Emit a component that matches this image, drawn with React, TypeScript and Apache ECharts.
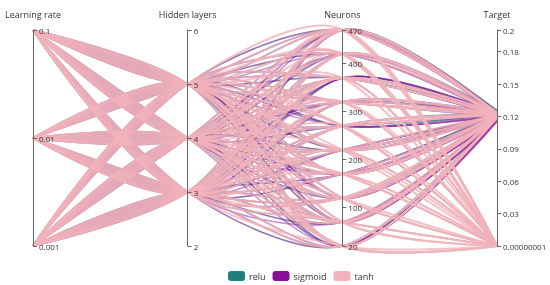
import React, { useEffect, useRef } from "react";
import * as echarts from "echarts";

const learningRateCategories = ["0.001", "0.01", "0.1"];
const learningRates = ["0.1", "0.01", "0.001"];
const hiddenLayers = [3, 4, 5];
const neurons = [20, 70, 120, 170, 220, 270, 320, 370, 420, 470];
const activations = ["relu", "sigmoid", "tanh"];
const colors = ["#1f7f7f", "#8b0e98", "#f1b3ba"];
const Z = 0.00000001;

// rows: lr 0.1 (hl 3,4,5), lr 0.01 (hl 3,4,5), lr 0.001 (hl 3,4,5); columns: neurons
const reluTargets = [
  [0.121, Z, 0.119, 0.122, Z, 0.12, 0.123, Z, 0.118, 0.124],
  [Z, 0.12, 0.122, Z, 0.121, 0.119, Z, 0.123, 0.125, Z],
  [0.12, 0.122, Z, 0.121, 0.123, Z, 0.12, 0.124, Z, 0.125],
  [0.118, 0.12, 0.121, 0.122, 0.12, 0.123, 0.121, 0.122, 0.124, 0.125],
  [0.119, 0.121, 0.12, 0.122, 0.123, 0.121, 0.124, 0.122, 0.125, 0.124],
  [0.12, 0.119, 0.122, 0.121, 0.123, 0.124, 0.122, 0.125, 0.123, 0.126],
  [0.117, 0.119, 0.12, 0.121, 0.12, 0.122, 0.121, 0.123, 0.122, 0.124],
  [0.118, 0.12, 0.119, 0.121, 0.122, 0.121, 0.123, 0.122, 0.124, 0.123],
  [0.119, 0.118, 0.121, 0.12, 0.122, 0.123, 0.121, 0.124, 0.123, 0.125],
];
const sigmoidTargets = [
  [0.119, 0.12, 0.118, 0.121, 0.12, 0.122, 0.121, 0.123, 0.122, 0.124],
  [0.118, 0.12, 0.121, 0.119, 0.122, 0.121, 0.123, 0.122, 0.124, 0.123],
  [0.117, 0.119, 0.118, 0.12, 0.121, 0.12, 0.122, 0.121, 0.123, 0.122],
  [0.118, 0.119, 0.12, 0.121, 0.12, 0.122, 0.121, 0.123, 0.122, 0.124],
  [0.117, 0.118, 0.12, 0.119, 0.121, 0.122, 0.12, 0.123, 0.124, 0.123],
  [0.116, 0.118, 0.119, 0.12, 0.121, 0.12, 0.122, 0.121, 0.123, 0.124],
  [0.117, 0.118, 0.12, 0.119, 0.121, 0.12, 0.122, 0.121, 0.123, 0.122],
  [0.116, 0.117, 0.119, 0.12, 0.119, 0.121, 0.122, 0.121, 0.123, 0.122],
  [0.115, 0.117, 0.118, 0.119, 0.12, 0.121, 0.12, 0.122, 0.121, 0.123],
];
const tanhTargets = [
  [Z, Z, 0.12, Z, Z, 0.121, Z, Z, 0.119, Z],
  [Z, 0.121, Z, Z, 0.122, Z, Z, 0.12, Z, Z],
  [0.12, Z, Z, 0.122, Z, Z, 0.121, Z, Z, 0.123],
  [0.119, Z, 0.121, 0.12, Z, 0.122, 0.121, Z, 0.123, 0.122],
  [Z, 0.12, 0.119, Z, 0.121, 0.122, Z, 0.123, 0.121, Z],
  [0.12, 0.121, Z, 0.122, 0.12, Z, 0.123, 0.122, Z, 0.124],
  [0.118, 0.12, 0.119, Z, 0.121, 0.12, 0.122, Z, 0.121, 0.123],
  [Z, 0.119, 0.12, 0.121, Z, 0.122, 0.121, 0.123, Z, 0.122],
  [0.119, Z, 0.121, 0.12, 0.122, Z, 0.121, 0.122, 0.123, Z],
];
const targetTables = [reluTargets, sigmoidTargets, tanhTargets];

function buildData(table: number[][]) {
  const out: (string | number)[][] = [];
  learningRates.forEach((lr, i) => {
    hiddenLayers.forEach((hl, j) => {
      const row = table[i * hiddenLayers.length + j];
      neurons.forEach((n, k) => {
        out.push([lr, hl, n, row[k]]);
      });
    });
  });
  return out;
}

export default function App() {
  const ref = useRef<HTMLDivElement>(null);
  useEffect(() => {
    if (!ref.current) return;
    const chart = echarts.init(ref.current, undefined, { renderer: "svg" });
    const font = "'Open Sans', 'Noto Sans', sans-serif";
    const axisCommon = {
      nameLocation: "end",
      nameGap: 11,
      nameTextStyle: { color: "#333", fontSize: 9, fontFamily: font },
      axisLine: { lineStyle: { color: "#666", width: 1 } },
      axisTick: { lineStyle: { color: "#666" }, length: 4 },
      axisLabel: { color: "#333", fontSize: 8, fontFamily: font, margin: 6 },
    };
    chart.setOption({
      animation: false,
      textStyle: { fontFamily: font },
      color: colors,
      parallel: {
        left: 33,
        right: 53,
        top: 30,
        bottom: 39,
        parallelAxisDefault: axisCommon,
      },
      parallelAxis: [
        {
          dim: 0,
          name: "Learning rate",
          type: "category",
          data: learningRateCategories,
          boundaryGap: false,
          ...axisCommon,
        },
        { dim: 1, name: "Hidden layers", min: 2, max: 6, interval: 1, ...axisCommon },
        { dim: 2, name: "Neurons", min: 20, max: 470, ...axisCommon },
        {
          dim: 3,
          name: "Target",
          min: 0,
          max: 0.2,
          interval: 0.03,
          ...axisCommon,
          axisLabel: {
            ...axisCommon.axisLabel,
            formatter: (v: number) => (v < 0.001 ? "0.00000001" : String(+v.toFixed(4))),
          },
        },
      ],
      legend: {
        top: 266,
        left: 223,
        itemWidth: 15,
        itemHeight: 8,
        itemGap: 7,
        icon: "roundRect",
        textStyle: { color: "#333", fontSize: 9, fontFamily: font },
        data: activations,
      },
      series: activations.map((a, idx) => ({
        name: a,
        type: "parallel",
        smooth: true,
        lineStyle: {
          width: idx === 2 ? 2 : 1.5,
          opacity: idx === 2 ? 0.8 : 0.45,
          color: colors[idx],
        },
        data: buildData(targetTables[idx]),
      })),
    });
    return () => chart.dispose();
  }, []);
  return (
    <div
      ref={ref}
      style={{ position: "fixed", left: 0, top: 0, width: 550, height: 285 }}
    />
  );
}
